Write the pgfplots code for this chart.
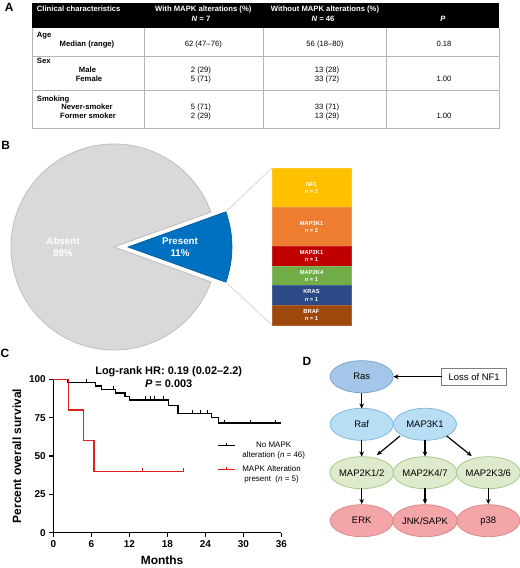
\documentclass[border=0pt]{standalone}
\usepackage{pgfplots}
\pgfplotsset{compat=1.18}
\usepackage{fontspec}
\setmainfont{Liberation Sans}
\usetikzlibrary{shapes.geometric, arrows.meta}

\definecolor{absentgray}{HTML}{D9D9D9}
\definecolor{absentedge}{HTML}{BDBDBD}
\definecolor{presblue}{HTML}{0070C0}
\definecolor{nfgold}{HTML}{FFC000}
\definecolor{mapthreeorange}{HTML}{ED7D31}
\definecolor{maponered}{HTML}{C00000}
\definecolor{mapfourgreen}{HTML}{70AD47}
\definecolor{krasblue}{HTML}{2B4A86}
\definecolor{brafbrown}{HTML}{9E480E}
\definecolor{rasfill}{HTML}{A4C6E8}
\definecolor{rasedge}{HTML}{7AA3CC}
\definecolor{raffill}{HTML}{B8DEF4}
\definecolor{rafedge}{HTML}{80B9DA}
\definecolor{mekfill}{HTML}{DDEBCC}
\definecolor{mekedge}{HTML}{A8C88D}
\definecolor{erkfill}{HTML}{F4A5A7}
\definecolor{erkedge}{HTML}{D98C8C}
\definecolor{kmred}{HTML}{E02020}
\definecolor{tablegray}{HTML}{B5B5B5}

\newcommand\tf{\fontsize{7.7}{9.3}\selectfont}
\newcommand\panel{\fontsize{12}{14}\selectfont\bfseries}
\tikzset{
  seglabel/.style={text=white, font=\fontsize{5.8}{7.3}\selectfont\bfseries, align=center, inner sep=0pt},
  tt/.style={inner sep=0pt, anchor=base, font=\tf},
  ttb/.style={inner sep=0pt, anchor=base, font=\tf\bfseries},
  ell/.style={ellipse, minimum width=63bp, minimum height=32bp, inner sep=0pt, line width=0.8bp, font=\fontsize{9.5}{11}\selectfont},
  arr/.style={line width=1.2bp, -{Stealth[length=5bp,width=4.6bp]}},
}

\begin{document}
\begin{tikzpicture}[x=1bp,y=1bp]
\useasboundingbox (0,0) rectangle (520,568);

% ---------------- Panel A : table ----------------
\node[font=\panel] at (9.2,560.5) {A};
\fill[black] (32,540.3) rectangle (499,564.7);
\draw[tablegray, line width=0.6bp] (32,540.3) -- (32,439.7) -- (499,439.7) -- (499,540.3);
\draw[tablegray, line width=0.6bp] (32,511.3) -- (499,511.3) (32,478) -- (499,478);
\draw[tablegray, line width=0.6bp] (144,540.3) -- (144,439.7) (263.3,540.3) -- (263.3,439.7) (386.7,540.3) -- (386.7,439.7);
\node[ttb, anchor=base west, text=white] at (36.7,556.25) {Clinical characteristics};
\node[ttb, text=white] at (203.3,556.25) {With MAPK alterations (\%)};
\node[ttb, text=white] at (201,546.95) {\textit{N} = 7};
\node[ttb, text=white] at (325,556.25) {Without MAPK alterations (\%)};
\node[ttb, text=white] at (323,546.95) {\textit{N} = 46};
\node[ttb, text=white] at (443,546.95) {\textit{P}};
\node[ttb, anchor=base west] at (36.7,530.95) {Age};
\node[ttb] at (87,521.95) {Median (range)};
\node[tt] at (203.3,521.95) {62 (47–76)};
\node[tt] at (325,521.95) {56 (18–80)};
\node[tt] at (444,521.95) {0.18};
\node[ttb, anchor=base west] at (36.7,504.25) {Sex};
\node[ttb] at (87.5,495.95) {Male};
\node[ttb] at (89,486.95) {Female};
\node[tt] at (201,495.95) {2 (29)};
\node[tt] at (201,486.95) {5 (71)};
\node[tt] at (327,495.95) {13 (28)};
\node[tt] at (327,486.95) {33 (72)};
\node[tt] at (444,486.95) {1.00};
\node[ttb, anchor=base west] at (36.7,466.95) {Smoking};
\node[ttb] at (87,458.55) {Never-smoker};
\node[ttb] at (88,449.25) {Former smoker};
\node[tt] at (201,458.55) {5 (71)};
\node[tt] at (201,449.25) {2 (29)};
\node[tt] at (327,458.55) {33 (71)};
\node[tt] at (327,449.25) {13 (29)};
\node[tt] at (444,449.25) {1.00};

% ---------------- Panel B : pie + bar ----------------
\node[font=\panel] at (5.8,423) {B};
\def\pabsent{89}
\def\ppresent{11}
\pgfmathsetmacro\halfang{\ppresent*3.6/2}
\pgfmathsetmacro\endang{360-\halfang}
\filldraw[fill=absentgray, draw=absentedge, line width=0.8bp] (114,321) -- ++(\halfang:103bp) arc[start angle=\halfang, end angle=\endang, radius=103bp] -- cycle;
\filldraw[fill=presblue, draw=presblue!80!black, line width=0.6bp] (128,321) -- ++(-\halfang:104bp) arc[start angle=-\halfang, end angle=\halfang, radius=104bp] -- cycle;
\draw[gray!45, line width=0.5bp] (128,321) ++(\halfang:104bp) -- (272,400);
\draw[gray!45, line width=0.5bp] (128,321) ++(-\halfang:104bp) -- (272,243);
\node[text=white, font=\fontsize{9.8}{11.7}\selectfont\bfseries, align=center] at (63,321) {Absent\\\pabsent\%};
\node[text=white, font=\fontsize{9.8}{11.7}\selectfont\bfseries, align=center] at (180,321) {Present\\\ppresent\%};

\begin{axis}[at={(272bp,243bp)}, anchor=south west, scale only axis,
  width=79bp, height=157bp, hide axis, clip=false,
  xmin=-0.5, xmax=0.5, ymin=0, ymax=8,
  ybar stacked, bar width=79bp]
\addplot[fill=brafbrown, draw=brafbrown!85!white, line width=0.5bp] coordinates {(0,1)};
\addplot[fill=krasblue, draw=krasblue!85!white, line width=0.5bp] coordinates {(0,1)};
\addplot[fill=mapfourgreen, draw=mapfourgreen!85!white, line width=0.5bp] coordinates {(0,1)};
\addplot[fill=maponered, draw=maponered!85!white, line width=0.5bp] coordinates {(0,1)};
\addplot[fill=mapthreeorange, draw=mapthreeorange!85!white, line width=0.5bp] coordinates {(0,2)};
\addplot[fill=nfgold, draw=nfgold!85!white, line width=0.5bp] coordinates {(0,2)};
\end{axis}
\node[seglabel] at (311.5,380) {NF1\\\textit{n} = 2};
\node[seglabel] at (311.5,341) {MAP3K1\\\textit{n} = 2};
\node[seglabel] at (311.5,312) {MAP2K1\\\textit{n} = 1};
\node[seglabel] at (311.5,292) {MAP2K4\\\textit{n} = 1};
\node[seglabel] at (311.5,272.5) {KRAS\\\textit{n} = 1};
\node[seglabel] at (311.5,253) {BRAF\\\textit{n} = 1};

% ---------------- Panel C : Kaplan-Meier ----------------
\node[font=\panel] at (5,215) {C};
\node[font=\fontsize{11}{13}\selectfont\bfseries] at (168.7,196) {Log-rank HR: 0.19 (0.02–2.2)};
\node[font=\fontsize{11}{13}\selectfont\bfseries] at (168.7,184.7) {\textit{P} = 0.003};
\begin{axis}[at={(53.3bp,35.3bp)}, anchor=south west, scale only axis,
  width=228bp, height=153.4bp, clip=false,
  xmin=0, xmax=36, ymin=0, ymax=100,
  axis lines=left, axis line style={line width=1.4bp, -},
  xtick={0,6,...,36}, ytick={0,25,50,75,100},
  tick align=outside, major tick length=4bp,
  tick style={line width=1.4bp, black},
  ticklabel style={font=\fontsize{10}{12}\selectfont\bfseries},
  /pgf/number format/assume math mode=true,
  xlabel={Months}, ylabel={Percent overall survival},
  label style={font=\fontsize{12}{14}\selectfont\bfseries},
  xlabel style={at={(axis description cs:0.477,-0.178)}, anchor=center},
  ylabel style={at={(axis description cs:-0.16,0.5)}, anchor=center},
  legend style={draw=none, fill=none, at={(axis description cs:0.72,0.605)}, anchor=north west,
    font=\fontsize{8}{10}\selectfont, cells={anchor=west, align=center}, row sep=3bp, inner sep=0pt},
]
\addplot[black, line width=1.4bp, const plot,
  legend image code/.code={\path[draw=none] (0bp,5bp) -- (22bp,5bp); \draw[black, line width=1.4bp] (0bp,5bp) -- (17bp,5bp); \draw[black, line width=0.9bp] (8.5bp,5bp) -- (8.5bp,7.5bp);}]
  coordinates {(0,100) (2.3,97.8) (6.7,95.6) (7.6,93.3) (9.8,91.1) (11.3,88.9) (12.0,86.6) (18.2,83.0) (19.7,77.8) (25.0,75.2) (26.1,71.5) (35.9,71.5)};
\addlegendentry{No MAPK\\alteration (\textit{n} = 46)}
\addplot[kmred, line width=1.4bp, const plot,
  legend image code/.code={\path[draw=none] (0bp,5bp) -- (22bp,5bp); \draw[kmred, line width=1.4bp] (0bp,5bp) -- (17bp,5bp); \draw[kmred, line width=0.9bp] (8.5bp,5bp) -- (8.5bp,7.5bp);}]
  coordinates {(0,100) (2.4,80) (4.8,60) (6.4,40) (20.5,40)};
\addlegendentry{MAPK Alteration\\present\ \ (\textit{n} = 5)}
\addplot[black, only marks, mark=|, mark size=2bp, mark options={line width=0.9bp, yshift=1.5bp}, forget plot]
  coordinates {(5.2,97.8) (9.5,93.3) (14.5,86.6) (15.3,86.6) (15.9,86.6) (17.4,86.6) (21.9,77.8) (23.3,77.8) (24.4,77.8) (27.1,71.5) (31.1,71.5) (35.1,71.5)};
\addplot[kmred, only marks, mark=|, mark size=2bp, mark options={line width=0.9bp, yshift=1.5bp}, forget plot]
  coordinates {(14.0,40) (20.5,40)};
\end{axis}

% ---------------- Panel D : pathway ----------------
\node[font=\panel] at (307,206.3) {D};
\node[ell, fill=rasfill, draw=rasedge] at (361.7,191.3) {Ras};
\node[ell, fill=raffill, draw=rafedge] at (361.7,143.7) {Raf};
\node[ell, fill=raffill, draw=rafedge] at (425,143.7) {MAP3K1};
\node[ell, fill=mekfill, draw=mekedge] at (361.7,95.3) {MAP2K1/2};
\node[ell, fill=mekfill, draw=mekedge] at (425,95.3) {MAP2K4/7};
\node[ell, fill=mekfill, draw=mekedge] at (488.3,95.3) {MAP2K3/6};
\node[ell, fill=erkfill, draw=erkedge] at (361.7,47.3) {ERK};
\node[ell, fill=erkfill, draw=erkedge] at (425,47.3) {JNK/SAPK};
\node[ell, fill=erkfill, draw=erkedge] at (488.3,47.3) {p38};
\node[draw=gray, line width=0.7bp, minimum width=65bp, minimum height=17bp, inner sep=0pt, font=\fontsize{9.5}{11}\selectfont] at (474.2,191.3) {Loss of NF1};
\draw[arr] (441.7,191.3) -- (393.5,191.3);
\draw[arr] (361.7,175) -- (361.7,159.5);
\draw[arr] (361.7,128) -- (361.7,111.5);
\draw[arr] (400,132) -- (377,113);
\draw[arr] (425,128) -- (425,111.5);
\draw[arr] (446.7,132) -- (471.7,112);
\draw[arr] (361.7,79.5) -- (361.7,64);
\draw[arr] (425,79.5) -- (425,64);
\draw[arr] (488.3,79.5) -- (488.3,64);
\end{tikzpicture}
\end{document}
